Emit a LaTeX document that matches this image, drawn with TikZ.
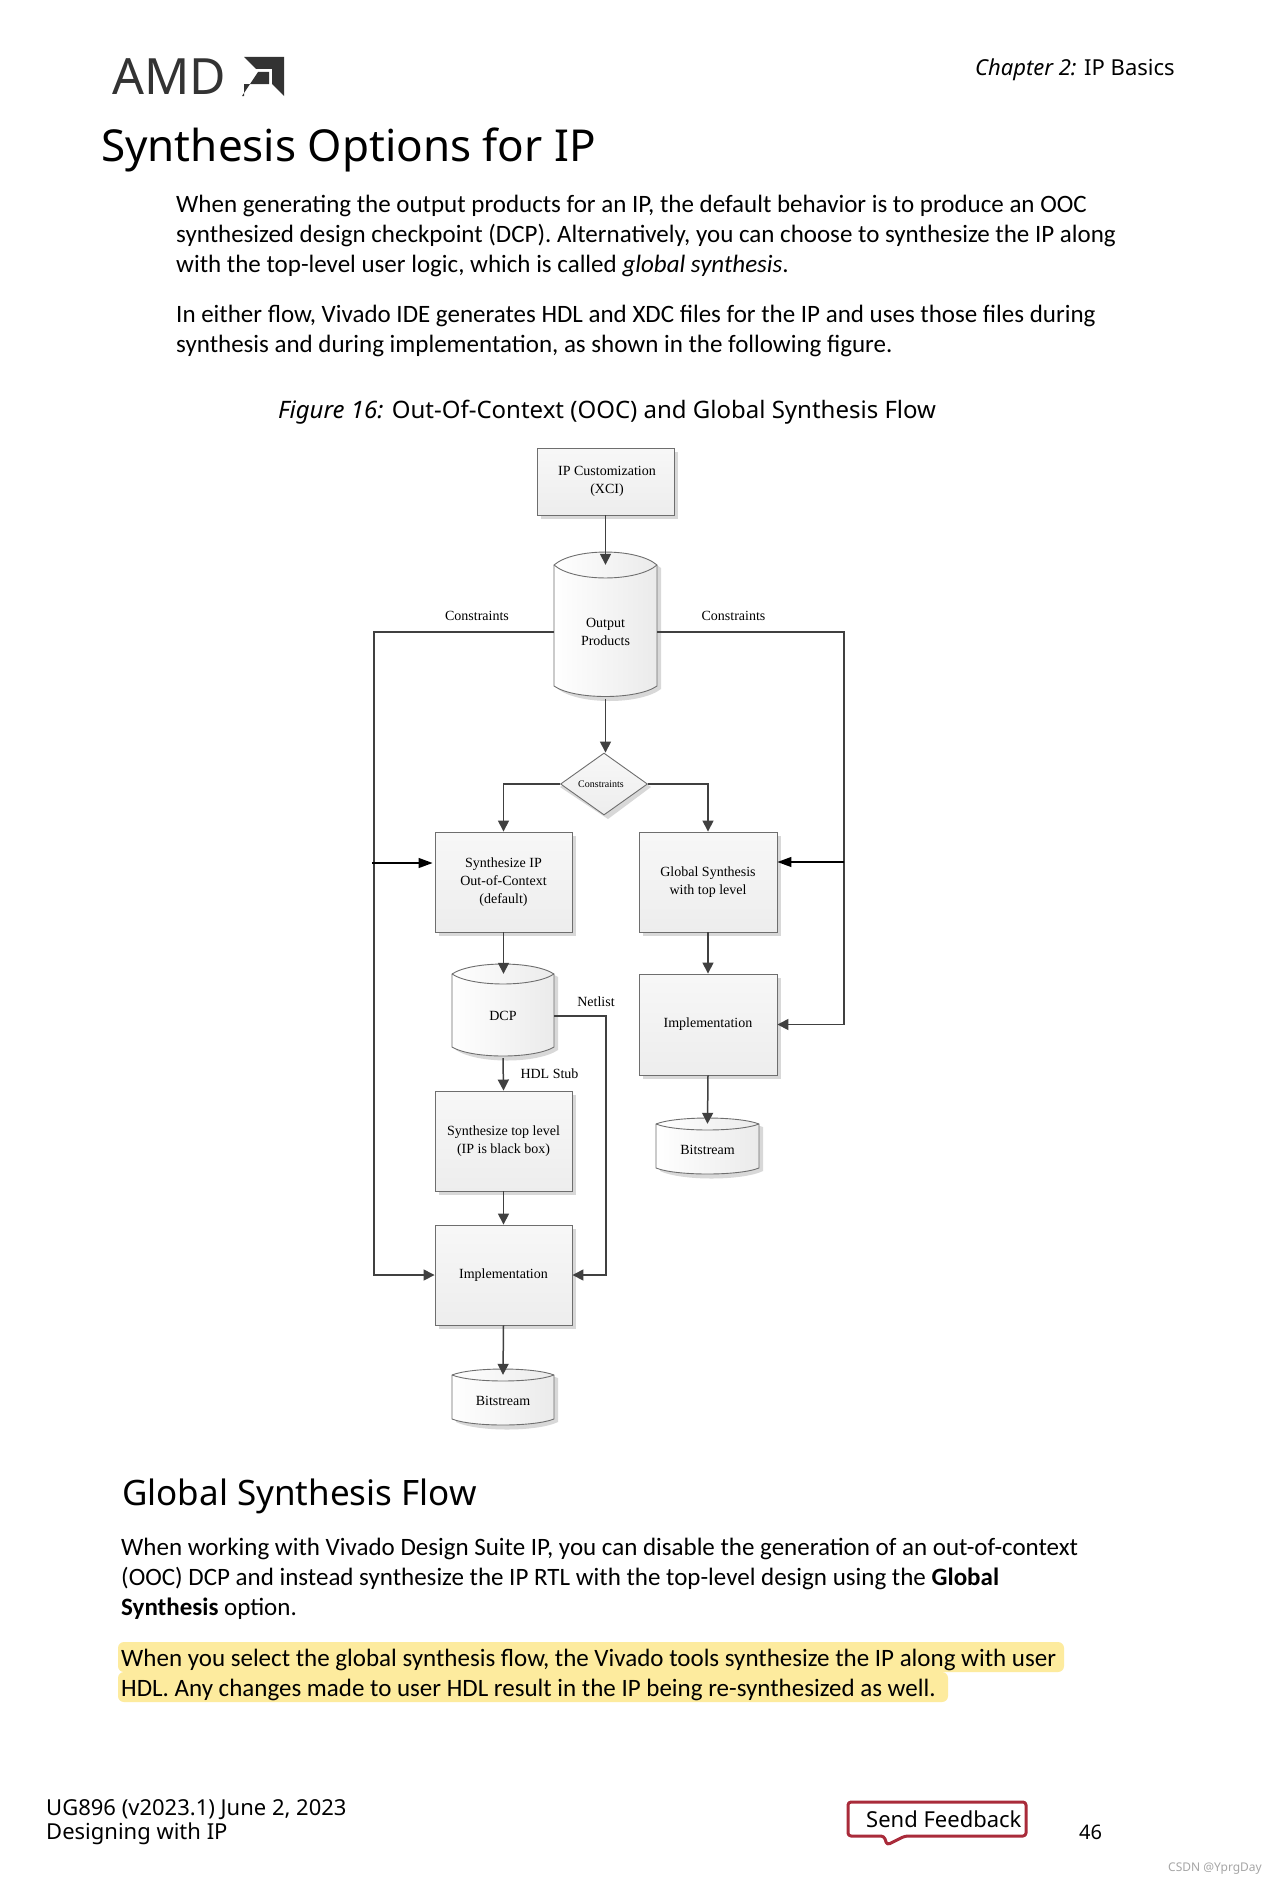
\documentclass[tikz,border=0pt]{standalone}
\usepackage{fontspec}
\usetikzlibrary{arrows.meta,shapes.geometric,calc}
\setmainfont{Carlito}
\newfontfamily\noto{Noto Sans}
\newfontfamily\tms{Liberation Serif}
\definecolor{edgegray}{HTML}{6E6E6E}
\definecolor{linegray}{HTML}{404040}
\definecolor{shadowgray}{HTML}{D8D8D8}
\definecolor{hilite}{HTML}{FDEB9E}
\definecolor{fbred}{HTML}{A92B3A}
\definecolor{logogray}{HTML}{333333}
\tikzset{
  x=1pt,y=-1pt,
  procbox/.style={draw=edgegray,line width=0.9pt,top color=white!97!black,bottom color=white!93!black,
    inner sep=0pt,font=\tms\fontsize{14}{18}\selectfont,align=center,text=black},
  dbtext/.style={inner sep=0pt,font=\tms\fontsize{14}{18}\selectfont,align=center,text=black},
  dbshape/.style={draw=edgegray,line width=0.9pt,left color=white,right color=white!92!black},
  decide/.style={diamond,draw=edgegray,line width=0.9pt,top color=white!97!black,bottom color=white!93!black,
    inner sep=0pt,minimum width=87pt,minimum height=62pt,font=\tms\fontsize{10}{12}\selectfont,text=black},
  shadowfill/.style={fill=shadowgray,draw=none},
  flow/.style={draw=linegray,line width=1.5pt,-{Triangle[length=11pt,width=11pt]}},
  flowplain/.style={draw=linegray,line width=1.5pt},
  entry/.style={draw=black,line width=1.3pt,-{Triangle[length=14pt,width=10pt]}},
  lab/.style={inner sep=0pt,font=\tms\fontsize{14}{18}\selectfont,text=black},
  body/.style={anchor=base west,inner sep=0pt,font=\fontsize{25}{30}\selectfont,text=black},
  hsans/.style={anchor=base west,inner sep=0pt,text=black},
  mark/.style={}
}
% name, x1, x2, corner y, bottom apex y, cap height, bottom corner y, text
\newcommand{\dbnode}[8]{%
  \path[shadowfill] ({#2+4},{#4+3}) .. controls ({#2+25},{#4-#6*1.33+3}) and ({#3-17},{#4-#6*1.33+3}) .. ({#3+4},{#4+3})
     -- ({#3+4},{#7+3}) .. controls ({#3-17},{#5+6}) and ({#2+25},{#5+6}) .. ({#2+4},{#7+3}) -- cycle;
  \path[dbshape] ({#2},{#4}) .. controls ({#2+20},{#4-#6*1.33}) and ({#3-20},{#4-#6*1.33}) .. ({#3},{#4})
     -- ({#3},{#7}) .. controls ({#3-20},{#5+1}) and ({#2+20},{#5+1}) .. ({#2},{#7}) -- cycle;
  \draw[edgegray,line width=0.9pt] ({#2},{#4}) .. controls ({#2+20},{#4+#6*1.33}) and ({#3-20},{#4+#6*1.33}) .. ({#3},{#4});
  \node[dbtext,minimum width={(#3)-(#2)},minimum height={(#5)-(#4)}] (#1) at ({(#2+#3)/2},{(#4+#5)/2}) {#8};
}
% name, x1, y1, x2, y2, text
\newcommand{\boxnode}[6]{%
  \fill[shadowgray] ({#2+4},{#3+4}) rectangle ({#4+4},{#5+4});
  \node[procbox,minimum width={(#4)-(#2)},minimum height={(#5)-(#3)}] (#1) at ({(#2+#4)/2},{(#3+#5)/2}) {#6};
}
\begin{document}
\begin{tikzpicture}
\useasboundingbox (0,0) rectangle (1272,1884);
\fill[white] (0,0) rectangle (1272,1884);
% logo
\node[hsans,font=\fontfamily{Liberation Sans}\selectfont] (dummy) at (0,0) {};
\node[anchor=base west,inner sep=0pt,font=\noto\bfseries\fontsize{50}{50}\selectfont,text=logogray] (amdword) at (112,95) {AMD};
\fill[logogray] (244,57) -- (284,57) -- (284,96) -- (272,84) -- (272,69) -- (256,69) -- cycle;
\fill[logogray] (258,72) -- (269,72) -- (269,84) -- (258,84) -- (244,84) -- (244,96) -- (242,96) -- cycle;
% header
\node[hsans,font=\noto\fontsize{22}{26}\selectfont] (chap) at (975,75) {\textit{Chapter 2:} IP Basics};
\node[hsans,font=\noto\bfseries\fontsize{44}{50}\selectfont] (title) at (101,161) {Synthesis Options for IP};
% top paragraphs
\node[body] (p1a) at (176,212) {When generating the output products for an IP, the default behavior is to produce an OOC};
\node[body] (p1b) at (176,242) {synthesized design checkpoint (DCP). Alternatively, you can choose to synthesize the IP along};
\node[body] (p1c) at (176,272) {with the top-level user logic, which is called \textit{global synthesis}.};
\node[body] (p2a) at (176,322) {In either flow, Vivado IDE generates HDL and XDC files for the IP and uses those files during};
\node[body] (p2b) at (176,352) {synthesis and during implementation, as shown in the following figure.};
\node[hsans,font=\noto\fontsize{24}{28}\selectfont] (figcap) at (278,418) {\textit{Figure 16:} \textbf{Out-Of-Context (OOC) and Global Synthesis Flow}};
% diagram
\boxnode{ipc}{537}{448}{674}{515}{\hspace*{3pt}IP Customization\\\hspace*{3pt}(XCI)}
\dbnode{op}{554}{657}{565}{699}{13}{686}{Output\\Products}
\fill[shadowgray] (560,787) -- (608,819) -- (651,787) -- (608,757) -- cycle;
\node[decide] (dia) at (604,784) {\hspace*{-6pt}Constraints};
\boxnode{synth}{435}{832}{572}{932}{Synthesize IP\\Out-of-Context\\(default)}
\boxnode{glob}{639}{832}{777}{932}{Global Synthesis\\with top level}
\dbnode{dcp}{452}{554}{974}{1058}{10}{1047}{DCP}
\boxnode{top}{435}{1091}{572}{1191}{Synthesize top level\\(IP is black box)}
\boxnode{impl}{435}{1225}{572}{1325}{Implementation}
\dbnode{bitl}{452}{554}{1375}{1426}{6}{1419}{Bitstream}
\boxnode{implr}{639}{974}{777}{1075}{Implementation}
\dbnode{bitr}{656}{759}{1124}{1175}{6}{1168}{Bitstream}
\coordinate (cornerLt) at (374,632);
\coordinate (cornerLb) at (374,1275);
\coordinate (cornerRt) at (844,632);
\coordinate (cornerRb) at (844,1024.5);
\coordinate (tapL) at (372,863);
\coordinate (tapR) at (844,862);
\coordinate (netA) at (606,1016);
\coordinate (netB) at (606,1275);
\draw[flow] (ipc.south) -- (ipc.south |- op.north);
\draw[flow] (op.south) -- (op.south |- dia.north);
\draw[flow] (dia.west) -| (synth.north);
\draw[flow] (dia.east) -| (glob.north);
\draw[flow] (op.west) -- (cornerLt) -- (cornerLb) -- (impl.west);
\draw[flowplain] (op.east) -- (cornerRt) -- (cornerRb);
\draw[flow] (cornerRb) -- (implr.east);
\draw[entry] (tapL) -- ($(synth.west |- tapL)+(-2,0)$);
\draw[entry] (tapR) -- (glob.east |- tapR);
\draw[flow] (synth.south) -- (synth.south |- dcp.north);
\draw[flow] (dcp.south) -- (top.north);
\draw[flow] (dcp.east) -- (netA) -- (netB) -- (impl.east);
\draw[flow] (top.south) -- (impl.north);
\draw[flow] (impl.south) -- (bitl.north);
\draw[flow] (glob.south) -- (implr.north);
\draw[flow] (implr.south) -- (bitr.north);
\node[lab] (lc1) at (477,616) {Constraints};
\node[lab] (lc2) at (733.5,616) {Constraints};
\node[lab] (lnet) at (596,1002) {Netlist};
\node[lab] (lhdl) at (549.5,1074) {HDL Stub};
% lower section
\node[hsans,font=\noto\bfseries\fontsize{35}{40}\selectfont] (h2) at (122,1505) {Global Synthesis Flow};
\node[body] (p3a) at (121,1555) {When working with Vivado Design Suite IP, you can disable the generation of an out-of-context};
\node[body] (p3b) at (121,1585) {(OOC) DCP and instead synthesize the IP RTL with the top-level design using the \textbf{Global}};
\node[body] (p3c) at (121,1615) {\textbf{Synthesis} option.};
\fill[hilite,rounded corners=6pt] (118,1642) rectangle (1064,1672);
\fill[hilite,rounded corners=6pt] (118,1672) rectangle (948,1702);
\node[body] (p4a) at (121,1666) {When you select the global synthesis flow, the Vivado tools synthesize the IP along with user};
\node[body] (p4b) at (121,1696) {HDL. Any changes made to user HDL result in the IP being re-synthesized as well.};
% footer
\node[hsans,font=\noto\fontsize{22}{26}\selectfont] (f1) at (46,1815) {UG896 (v2023.1) June 2, 2023};
\node[hsans,font=\noto\fontsize{22}{26}\selectfont] (f2) at (46,1839) {Designing with IP};
\draw[fbred,line width=3pt,line join=round,rounded corners=3pt] (848,1802) -- (1026,1802) -- (1026,1836) -- (905,1836) -- (887,1845) -- (884,1836) -- (848,1836) -- cycle;
\node[hsans,font=\noto\fontsize{22}{26}\selectfont] (sf) at (866,1827) {Send Feedback};
\node[hsans,font=\noto\fontsize{20}{24}\selectfont] (pg) at (1079,1839) {46};
\node[hsans,font=\noto\fontsize{12}{14}\selectfont,text=gray!70] (wm) at (1168,1871) {CSDN @YprgDay};
\end{tikzpicture}
\end{document}
